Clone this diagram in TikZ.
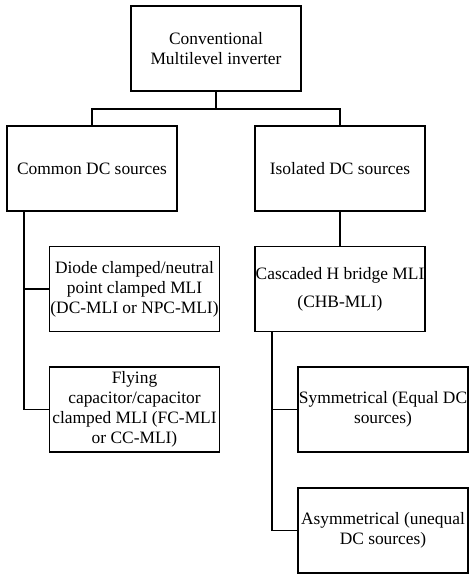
\documentclass[tikz,border=0pt]{standalone}
\usepackage{fontspec}
\setmainfont{Liberation Serif}
\begin{document}
\begin{tikzpicture}[x=1pt,y=-1pt,
  box/.style={draw,line width=1.6pt,minimum width=170pt,minimum height=85pt,
    inner sep=0pt,align=center,font=\fontsize{17.4}{20}\selectfont},
  conn/.style={line width=1.6pt}]
\useasboundingbox (0,0) rectangle (474,579);
\node[box] (top) at (216,48.5) {Conventional\\Multilevel inverter};
\node[box] (common) at (92,168.5) {Common DC sources};
\node[box] (isolated) at (340,168.5) {Isolated DC sources};
\node[box] (diode) at (134.5,289) {Diode clamped/neutral\\point clamped MLI\\(DC-MLI or NPC-MLI)};
\node[box] (flying) at (134.5,409.5) {Flying\\capacitor/capacitor\\clamped MLI (FC-MLI\\or CC-MLI)};
\node[box] (chb) at (340,289) {Cascaded H bridge MLI\\[8pt](CHB-MLI)};
\node[box] (sym) at (383,409.5) {Symmetrical (Equal DC\\sources)};
\node[box] (asym) at (383,530.5) {Asymmetrical (unequal\\DC sources)};
\coordinate (lt) at (24,0);
\coordinate (rt) at (272,0);
\draw[conn] (top.south) -- ++(0,17) coordinate (j) -| (common.north);
\draw[conn] (j) -| (isolated.north);
\draw[conn] (common.south -| lt) |- (diode.west);
\draw[conn] (common.south -| lt) |- (flying.west);
\draw[conn] (isolated.south) -- (chb.north);
\draw[conn] (chb.south -| rt) |- (sym.west);
\draw[conn] (chb.south -| rt) |- (asym.west);
\end{tikzpicture}
\end{document}
